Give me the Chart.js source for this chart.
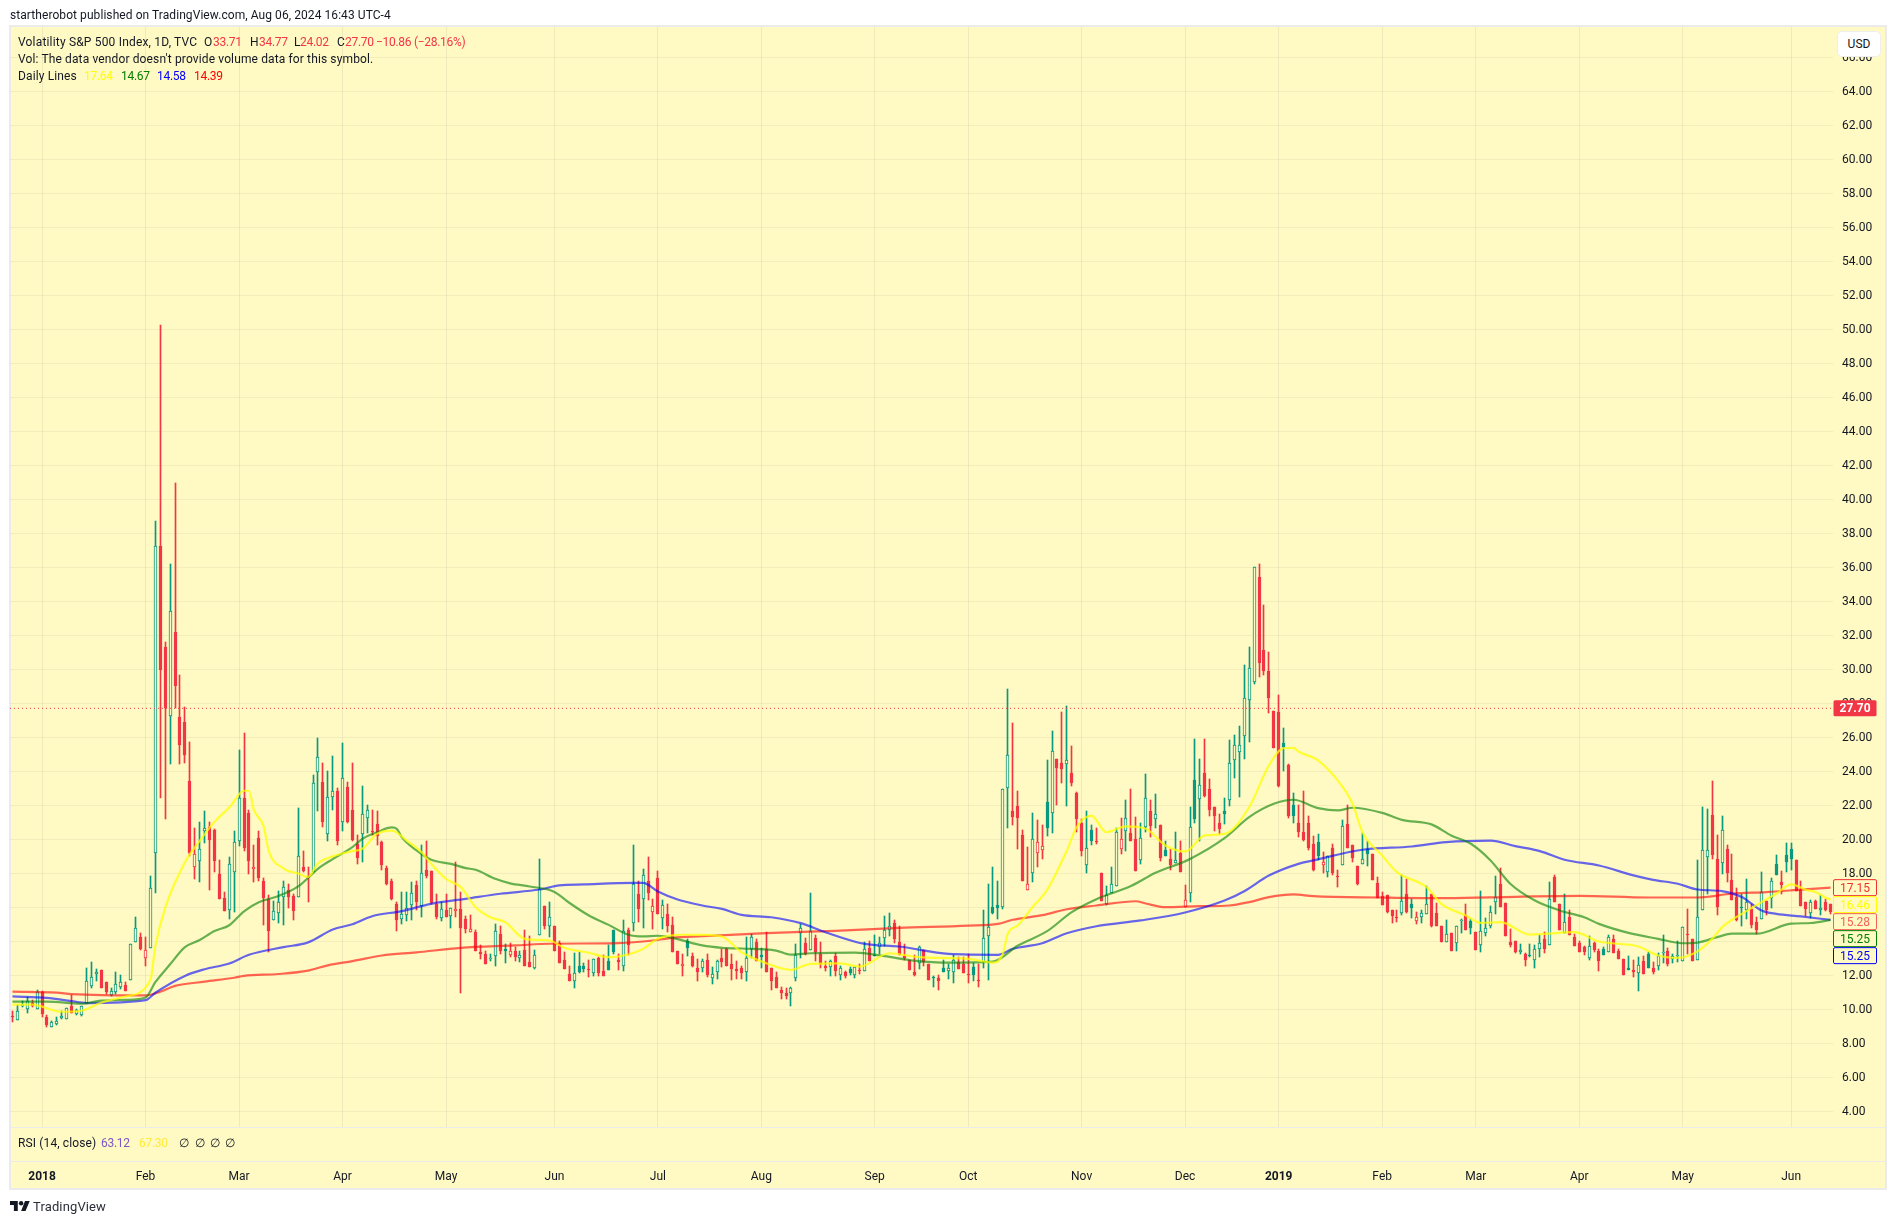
<!DOCTYPE html>
<html>
<head>
<meta charset="utf-8">
<title>VIX</title>
<script src="https://cdn.jsdelivr.net/npm/chart.js@4"></script>
<style>
    html, body { margin: 0; padding: 0; background: #fff; overflow: hidden; }
    body { width: 1895px; height: 1224px; position: relative; font-family: Roboto, sans-serif; font-size: 12px; color: #131722; }
    canvas { position: absolute; left: 0; top: 0; }
    .row { position: absolute; white-space: pre; line-height: 16px; letter-spacing: .13px; }
    .row span { position: absolute; top: 0; letter-spacing: -.3px; }
    #usd { position: absolute; left: 1837px; top: 31px; width: 42px; height: 24px; line-height: 24px; text-align: center; background: #fff; border: 1px solid #eeeeee; border-radius: 5px; }
</style>
</head>
<body>
<canvas id="vixChart" width="1895" height="1224"></canvas>
<div class="row" style="left:10px;top:7px;letter-spacing:.07px">startherobot published on TradingView.com, Aug 06, 2024 16:43 UTC-4</div>
<div class="row" style="left:18px;top:34px;letter-spacing:.18px">Volatility S&amp;P 500 Index, 1D, TVC<span style="left:186px">O</span><span style="left:195px;color:#F23645">33.71</span><span style="left:232px">H</span><span style="left:241px;color:#F23645">34.77</span><span style="left:276px">L</span><span style="left:282px;color:#F23645">24.02</span><span style="left:319px">C</span><span style="left:327px;color:#F23645">27.70</span><span style="left:358px;color:#F23645">−10.86 (−28.16%)</span></div>
<div class="row" style="left:18px;top:51px">Vol: The data vendor doesn't provide volume data for this symbol.</div>
<div class="row" style="left:18px;top:68px">Daily Lines<span style="left:66px;color:#FFFF00">17.64</span><span style="left:103px;color:#008000">14.67</span><span style="left:139px;color:#0000FF">14.58</span><span style="left:176px;color:#FF0000">14.39</span></div>
<div class="row" style="left:18px;top:1135px">RSI (14, close)<span style="left:83px;color:#7E57C2">63.12</span><span style="left:121px;color:#FFEB3B">67.30</span><span style="left:161px">∅</span><span style="left:177px">∅</span><span style="left:192px">∅</span><span style="left:207px">∅</span></div>
<div id="usd">USD</div>
<svg style="position:absolute;left:10px;top:1201px" width="20" height="10" viewBox="0 0 36 18"><path fill="#131722" d="M14 18H7V7H0V0h14v18zM28 18h-8l7-18h8.5L28 18z"/><circle cx="20" cy="4" r="4" fill="#131722"/></svg>
<div class="row" style="left:33px;top:1199px;font-size:13px;color:#2a2e39">TradingView</div>

<script>
// 봉 데이터 (시가/고가/저가/종가, 차트에서 읽은 값)
const opens = [
    9.6, 9.37, 10.2, 10.02, 10.36, 10.02, 11.03, 9.57, 8.98, 9.12,
    9.5, 9.43, 10.16, 9.71, 9.68, 10.38, 11.34, 12.05, 12.3, 11.59,
    10.81, 11.0, 11.28, 11.45, 11.73, 13.93, 14.27, 13.0, 13.59, 19.19,
    37.26, 31.32, 27.24, 32.16, 27.21, 26.9, 23.44, 18.38, 18.71, 20.49,
    20.71, 20.57, 17.98, 16.52, 15.84, 18.07, 19.92, 22.43, 21.56, 18.24,
    20.06, 17.53, 16.46, 15.22, 15.65, 16.6, 17.0, 16.63, 16.6, 18.38,
    17.73, 18.09, 23.95, 23.36, 20.32, 22.48, 22.85, 21.02, 23.05, 21.69,
    19.73, 20.3, 21.26, 20.51, 20.92, 19.83, 18.28, 17.57, 16.16, 15.32,
    15.55, 16.12, 17.28, 16.06, 18.16, 18.1, 16.2, 15.36, 15.81, 15.47,
    15.76, 15.9, 15.3, 14.53, 14.57, 13.39, 13.22, 12.95, 13.12, 14.4,
    13.57, 13.16, 13.45, 13.0, 13.51, 12.75, 12.41, 14.38, 16.08, 14.89,
    14.92, 13.9, 12.92, 12.08, 11.65, 12.55, 12.55, 12.36, 12.12, 13.0,
    12.22, 12.81, 14.63, 12.91, 12.53, 14.63, 15.06, 16.75, 16.47, 17.57,
    15.71, 17.69, 15.36, 15.61, 14.98, 13.45, 12.53, 14.04, 13.1, 12.4,
    12.41, 12.92, 11.82, 12.18, 13.04, 13.53, 12.63, 12.39, 12.45, 12.18,
    13.55, 13.96, 13.16, 13.55, 12.43, 11.92, 11.14, 10.96, 10.94, 11.82,
    14.47, 13.9, 13.49, 14.2, 13.23, 12.55, 12.47, 13.1, 12.0, 12.16,
    12.39, 12.0, 12.33, 12.23, 13.59, 13.16, 13.63, 14.18, 14.68, 15.08,
    13.96, 13.14, 12.92, 12.16, 12.7, 13.49, 12.63, 11.87, 11.82, 12.45,
    12.23, 12.18, 12.8, 12.63, 12.07, 12.51, 11.7, 12.8, 14.29, 16.04,
    16.14, 16.0, 23.0, 21.63, 21.96, 20.27, 17.0, 18.0, 19.18, 19.35,
    22.16, 21.53, 24.73, 24.51, 24.41, 23.9, 22.69, 20.96, 18.47, 20.57,
    19.92, 18.04, 16.16, 16.82, 17.26, 19.41, 20.49, 20.39, 20.04, 18.77,
    20.73, 21.63, 21.2, 20.81, 19.37, 18.86, 18.59, 19.16, 16.0, 16.84,
    23.49, 22.37, 23.9, 22.98, 21.92, 20.96, 21.63, 22.31, 24.67, 25.12,
    26.06, 28.2, 29.24, 35.45, 31.14, 29.9, 27.55, 27.51, 25.67, 24.34,
    22.04, 20.98, 20.45, 20.98, 19.69, 19.86, 18.47, 18.06, 19.49, 17.8,
    18.47, 20.87, 19.67, 18.43, 18.53, 19.43, 19.14, 17.4, 16.63, 16.73,
    15.81, 15.45, 15.65, 16.79, 16.16, 15.18, 15.41, 15.59, 16.79, 15.67,
    14.92, 13.98, 14.47, 13.87, 15.2, 15.57, 15.16, 14.57, 13.77, 14.47,
    14.88, 16.3, 17.38, 16.26, 13.96, 14.02, 13.36, 13.22, 13.14, 12.88,
    13.53, 14.1, 13.75, 17.75, 16.2, 14.47, 15.41, 14.22, 13.92, 13.63,
    13.04, 13.87, 13.45, 13.55, 13.39, 14.1, 13.41, 12.98, 12.43, 12.28,
    12.12, 12.81, 13.22, 12.41, 12.53, 13.3, 13.45, 12.98, 13.12, 12.81,
    14.45, 14.1, 12.87, 15.85, 18.95, 21.4, 18.81, 18.59, 19.4, 17.58,
    16.6, 15.98, 15.85, 15.89, 15.1, 15.32, 16.34, 16.56, 18.56, 17.46,
    19.05, 19.4, 18.75, 16.99, 16.28, 15.67, 16.34, 15.81, 16.3, 16.16
];
const highs = [
    9.88, 10.22, 10.5, 10.69, 10.52, 11.1, 11.05, 9.65, 9.3, 9.54,
    9.9, 10.07, 10.83, 9.99, 10.2, 12.44, 12.77, 12.38, 12.3, 11.6,
    11.26, 12.21, 11.99, 11.62, 13.85, 15.42, 14.47, 14.27, 17.84, 38.72,
    50.23, 31.6, 36.16, 40.97, 29.66, 27.77, 25.69, 20.68, 20.99, 21.64,
    21.02, 20.6, 18.77, 16.88, 18.97, 20.46, 25.27, 26.23, 21.7, 19.64,
    20.51, 17.7, 16.71, 16.35, 16.97, 17.53, 17.36, 16.8, 21.86, 19.33,
    18.38, 23.78, 25.97, 24.51, 24.0, 24.9, 23.02, 25.66, 23.36, 24.51,
    20.22, 23.1, 22.04, 21.69, 21.63, 19.92, 18.43, 17.67, 16.3, 16.92,
    16.9, 17.49, 17.55, 19.67, 19.87, 18.1, 16.79, 16.3, 16.79, 15.96,
    18.67, 16.92, 15.51, 15.57, 14.63, 13.75, 13.45, 13.26, 15.02, 14.92,
    13.85, 13.88, 13.65, 13.45, 14.63, 14.28, 13.51, 18.81, 16.08, 16.28,
    14.92, 14.0, 13.36, 12.57, 13.28, 13.34, 12.71, 12.87, 12.96, 13.06,
    13.16, 13.75, 14.63, 13.22, 15.22, 14.8, 19.63, 17.57, 18.22, 18.98,
    16.49, 18.1, 16.43, 16.2, 15.45, 13.45, 13.22, 14.14, 13.32, 12.96,
    12.96, 13.22, 12.51, 12.9, 13.55, 13.59, 13.22, 12.86, 12.55, 14.27,
    14.43, 14.14, 13.59, 14.57, 12.43, 12.16, 11.29, 11.25, 11.33, 13.84,
    15.02, 14.2, 16.86, 14.37, 13.96, 12.86, 12.9, 13.31, 12.55, 12.24,
    12.47, 12.49, 12.67, 13.96, 14.04, 14.39, 14.23, 15.47, 15.63, 15.22,
    14.92, 13.84, 12.92, 13.16, 13.74, 13.49, 12.63, 11.98, 12.04, 12.9,
    12.67, 13.16, 13.06, 13.06, 13.25, 12.69, 12.63, 15.84, 17.39, 18.39,
    17.53, 22.96, 28.81, 26.81, 22.86, 20.57, 19.57, 21.57, 21.1, 20.86,
    24.63, 26.37, 24.73, 27.51, 27.86, 25.51, 22.8, 21.2, 21.63, 20.86,
    20.65, 18.04, 17.24, 18.39, 20.67, 21.26, 22.32, 22.98, 21.33, 20.96,
    23.81, 22.33, 22.63, 20.81, 19.92, 19.43, 20.45, 19.92, 17.28, 21.92,
    25.9, 24.69, 25.9, 23.57, 21.92, 21.49, 22.45, 25.84, 26.1, 26.63,
    30.27, 31.33, 36.02, 36.16, 33.75, 31.04, 27.55, 28.51, 26.57, 24.43,
    22.69, 22.02, 22.81, 21.34, 20.16, 20.28, 19.24, 19.0, 19.73, 18.16,
    21.14, 22.04, 19.67, 18.43, 20.37, 19.92, 19.14, 17.75, 16.88, 16.73,
    15.81, 15.81, 17.92, 17.63, 16.51, 15.69, 15.85, 17.22, 16.79, 16.24,
    14.92, 15.22, 14.47, 14.92, 15.3, 16.16, 15.3, 14.57, 16.98, 15.38,
    16.08, 17.81, 18.32, 16.26, 14.69, 14.02, 13.84, 13.3, 13.81, 13.75,
    14.34, 14.53, 17.51, 17.87, 16.2, 16.75, 15.81, 14.43, 14.04, 13.73,
    14.28, 13.96, 13.55, 13.65, 14.39, 14.34, 13.55, 12.98, 13.14, 12.87,
    13.06, 13.14, 13.36, 12.77, 13.3, 14.34, 13.61, 13.26, 14.04, 14.81,
    15.9, 14.1, 18.8, 21.89, 21.79, 23.4, 20.22, 21.34, 19.63, 19.14,
    17.14, 16.79, 17.63, 16.16, 15.42, 18.07, 16.34, 17.73, 19.05, 18.12,
    19.75, 19.75, 18.75, 17.52, 16.28, 16.44, 16.44, 16.69, 16.46, 16.16
];
const lows = [
    9.26, 9.37, 10.15, 9.76, 10.1, 10.0, 9.57, 8.98, 8.95, 9.07,
    9.4, 9.43, 9.79, 9.65, 9.6, 10.38, 11.26, 11.65, 11.26, 10.9,
    10.75, 10.9, 11.17, 11.06, 11.73, 13.93, 13.48, 12.55, 13.59, 16.83,
    22.43, 21.16, 24.43, 27.69, 24.43, 24.48, 18.99, 17.64, 17.48, 19.78,
    17.0, 18.09, 16.46, 15.76, 15.28, 15.73, 19.58, 19.33, 17.95, 17.48,
    17.53, 14.94, 13.37, 15.22, 15.08, 14.97, 15.96, 15.22, 16.6, 18.09,
    16.29, 18.09, 21.67, 20.71, 19.89, 21.72, 19.64, 20.51, 20.94, 19.87,
    18.57, 18.63, 20.36, 20.22, 19.63, 18.16, 17.28, 16.4, 14.59, 15.0,
    15.18, 15.22, 15.81, 15.41, 17.73, 16.2, 15.3, 15.16, 15.45, 14.75,
    15.45, 10.94, 14.51, 14.53, 13.41, 12.94, 12.63, 12.83, 12.53, 13.22,
    12.71, 13.06, 12.83, 12.77, 12.53, 12.51, 12.36, 14.38, 14.71, 14.24,
    13.41, 12.71, 12.34, 11.63, 11.24, 12.12, 12.18, 11.88, 11.98, 11.98,
    11.94, 12.3, 13.22, 12.28, 12.24, 13.16, 14.59, 15.12, 14.75, 16.4,
    14.69, 15.59, 14.71, 14.53, 13.36, 12.63, 11.98, 13.12, 12.47, 11.65,
    12.16, 11.88, 11.47, 11.78, 12.51, 12.57, 11.69, 11.8, 11.8, 11.63,
    13.0, 12.82, 12.45, 12.18, 11.1, 11.23, 10.59, 10.59, 10.2, 11.63,
    13.0, 13.16, 13.49, 12.86, 12.41, 12.27, 11.98, 11.98, 11.69, 11.86,
    12.02, 11.86, 12.08, 12.23, 12.82, 13.1, 13.25, 13.69, 14.33, 13.9,
    13.16, 12.9, 12.33, 11.98, 12.35, 12.57, 11.69, 11.33, 11.1, 12.16,
    11.8, 11.57, 12.39, 12.12, 11.55, 11.63, 11.33, 12.43, 11.74, 15.6,
    15.29, 15.88, 20.63, 20.86, 19.45, 17.57, 17.0, 17.51, 18.39, 18.81,
    20.16, 20.39, 22.04, 23.33, 21.98, 23.1, 20.41, 19.04, 18.04, 19.65,
    19.69, 16.35, 16.12, 16.82, 17.26, 19.12, 19.28, 19.92, 18.12, 18.53,
    20.41, 20.12, 20.63, 18.69, 19.0, 18.2, 18.59, 18.06, 16.0, 16.3,
    20.94, 19.92, 22.51, 21.39, 20.51, 20.31, 20.9, 21.98, 23.61, 22.51,
    24.69, 25.71, 29.14, 29.57, 29.63, 27.41, 25.35, 23.06, 24.04, 21.24,
    20.94, 20.12, 19.9, 19.34, 18.1, 18.79, 18.0, 17.77, 17.87, 17.18,
    18.47, 19.47, 18.65, 17.3, 18.53, 18.45, 17.61, 16.55, 16.12, 15.65,
    15.06, 15.12, 15.55, 15.65, 15.36, 15.0, 15.06, 15.59, 14.83, 14.88,
    13.98, 13.98, 13.45, 13.45, 14.51, 14.63, 14.4, 13.49, 13.39, 14.28,
    14.75, 15.59, 16.0, 14.3, 13.65, 13.3, 13.22, 12.53, 13.06, 12.41,
    13.06, 13.3, 13.75, 16.28, 14.63, 14.47, 14.39, 13.69, 13.36, 13.16,
    12.87, 13.36, 12.22, 13.16, 13.39, 13.3, 12.94, 12.0, 12.28, 11.88,
    11.06, 12.06, 12.41, 12.08, 12.28, 12.73, 12.53, 12.73, 12.77, 12.81,
    13.26, 12.81, 12.87, 15.81, 16.8, 18.85, 15.56, 17.93, 17.48, 16.44,
    15.18, 14.89, 15.28, 14.79, 14.44, 15.32, 15.52, 15.97, 17.89, 16.79,
    18.07, 18.2, 16.95, 16.07, 15.46, 15.38, 15.87, 15.56, 15.77, 15.6
];
const closes = [
    9.55, 9.91, 10.27, 10.47, 10.16, 11.03, 9.74, 9.09, 9.26, 9.31,
    9.6, 10.07, 9.79, 9.93, 10.16, 11.65, 11.9, 12.21, 11.26, 11.03,
    11.06, 11.48, 11.59, 11.06, 13.85, 14.77, 13.54, 13.48, 17.14, 37.26,
    29.94, 27.69, 33.43, 29.0, 25.55, 24.96, 19.19, 19.13, 19.42, 20.63,
    19.98, 18.71, 16.46, 15.76, 18.54, 19.84, 22.43, 19.5, 18.71, 18.38,
    17.7, 16.52, 14.6, 15.79, 16.32, 17.19, 16.6, 15.79, 19.02, 18.15,
    17.84, 23.3, 24.85, 21.02, 22.48, 22.85, 19.92, 23.61, 21.02, 19.96,
    18.87, 21.49, 21.73, 20.43, 20.18, 18.47, 17.34, 16.49, 15.22, 15.61,
    15.96, 16.85, 16.3, 18.02, 17.81, 16.24, 15.4, 15.9, 15.45, 15.96,
    15.9, 14.75, 14.69, 14.73, 13.41, 13.22, 12.63, 12.99, 14.61, 13.41,
    13.41, 13.43, 13.06, 13.2, 12.57, 12.51, 13.2, 17.08, 14.92, 15.43,
    13.41, 12.71, 12.34, 11.63, 12.14, 12.16, 12.34, 12.32, 12.96, 12.12,
    11.94, 12.3, 13.36, 12.77, 14.61, 13.75, 17.34, 15.87, 17.91, 16.83,
    16.08, 15.59, 16.14, 14.92, 13.36, 12.63, 12.67, 13.59, 12.57, 12.16,
    12.84, 12.04, 12.08, 12.84, 12.8, 12.57, 12.39, 12.27, 12.12, 13.02,
    14.27, 12.82, 13.06, 12.18, 11.65, 11.23, 10.94, 10.8, 11.25, 13.16,
    14.78, 13.25, 14.6, 13.39, 12.63, 12.45, 12.84, 12.23, 12.43, 11.98,
    12.1, 12.49, 12.23, 13.55, 12.82, 13.12, 13.9, 14.68, 14.9, 14.1,
    13.16, 13.02, 12.33, 12.04, 13.67, 12.76, 11.69, 11.85, 11.65, 12.16,
    12.43, 12.9, 12.39, 12.12, 12.03, 12.04, 11.66, 14.2, 14.86, 15.65,
    15.94, 22.96, 24.96, 21.28, 21.22, 17.57, 17.37, 20.02, 19.84, 19.61,
    20.63, 25.2, 24.16, 24.1, 24.67, 23.28, 21.16, 19.28, 19.49, 19.92,
    19.82, 16.35, 16.71, 17.35, 20.43, 20.02, 21.26, 19.92, 18.12, 20.08,
    22.43, 20.77, 21.49, 18.88, 19.0, 18.47, 18.78, 18.06, 16.43, 20.73,
    21.18, 23.2, 22.57, 21.71, 21.39, 20.59, 21.5, 24.49, 25.55, 25.55,
    28.31, 30.08, 36.02, 30.35, 29.88, 28.3, 25.35, 23.14, 25.41, 21.34,
    21.34, 20.41, 19.94, 19.47, 18.16, 19.04, 18.63, 19.0, 18.0, 17.76,
    20.79, 19.47, 18.88, 17.38, 18.85, 19.12, 17.61, 16.55, 16.12, 15.69,
    15.51, 15.36, 16.38, 15.69, 15.94, 15.43, 15.67, 16.2, 14.87, 14.88,
    13.98, 14.43, 13.45, 14.87, 15.2, 14.63, 14.77, 13.49, 14.61, 14.75,
    15.73, 16.61, 16.0, 14.3, 13.77, 13.38, 13.49, 12.88, 13.13, 13.55,
    13.9, 13.57, 16.51, 16.28, 14.63, 15.14, 14.39, 13.69, 13.36, 13.34,
    13.73, 13.49, 12.81, 13.16, 14.26, 13.3, 12.94, 12.0, 12.28, 12.16,
    12.61, 12.06, 12.41, 12.2, 13.14, 13.32, 12.67, 13.14, 13.14, 14.81,
    14.34, 12.81, 15.43, 19.34, 19.38, 19.05, 16.01, 20.56, 18.0, 16.44,
    15.22, 15.94, 16.3, 14.93, 14.67, 16.89, 15.81, 17.52, 17.89, 17.3,
    18.65, 18.83, 16.95, 16.07, 15.87, 16.32, 15.87, 15.97, 15.85, 15.71
];
// 봉 색상 (g: 상승, r: 하락)
const candleDirs = (
    'rgggrgrrgg' + 'ggrgggggrr' + 'gggrggrrgg' + 'rrgrrrrrgg' + 'rrrrgggrrr' +
    'rrrgggrrgr' + 'rggrggrgrr' + 'rggrrrrrrg' + 'ggrgrrrgrg' + 'rrrrrrrggr' +
    'grrgrrggrg' + 'rrrrgggrgr' + 'rggrgrgrgr' + 'rrgrrrrgrr' + 'grggrrrrrg' +
    'grgrrrrrgg' + 'grgrrrgrgr' + 'ggrgrggggr' + 'rrrrgrrgrg' + 'ggrrrgrggg' +
    'gggrrrrgrr' + 'ggrrgrrrgg' + 'rrgggrgrrg' + 'grgrgrgrrg' + 'ggrrrrgggg' +
    'gggrrrrrgr' + 'grrrrgrgrr' + 'grrrggrrrr' + 'rrgrgrggrr' + 'rgrggrgrgg' +
    'ggrrrrgrgg' + 'grgrrgrrrr' + 'grrggrrrgr' + 'grgrggrggg' + 'rrgggrrgrr' +
    'rggrrgrggr' + 'ggrrrgrgrr'
).split('');

// 이동평균선 (봉 위치, 값)
const yellowBars = [0, 4, 10, 14, 18, 23, 28, 29, 31, 35, 38, 41, 44, 47, 48, 49, 51, 52, 55, 58, 60, 62, 65, 69, 71, 74, 77, 80, 83, 85, 88, 91, 94, 97, 100, 104, 109, 112, 117, 121, 125, 128, 131, 136, 140, 144, 148, 153, 158, 162, 168, 172, 178, 184, 194, 199, 201, 202, 204, 207, 210, 214, 216, 219, 222, 226, 230, 234, 238, 242, 246, 251, 255, 258, 260, 261, 265, 270, 272, 274, 278, 281, 287, 290, 295, 298, 302, 308, 311, 317, 322, 330, 334, 338, 342, 345, 347, 349, 351, 355, 358, 361, 364, 366, 368, 369];
const yellowLine = [10.27, 10.27, 9.85, 9.91, 10.38, 10.75, 11.73, 13.7, 15.96, 18.63, 19.9, 21.02, 21.86, 22.85, 22.85, 21.72, 20.74, 19.33, 18.29, 17.98, 17.78, 18.57, 18.99, 19.3, 19.43, 20.32, 20.51, 19.92, 19.24, 18.55, 17.67, 17.18, 16.0, 15.41, 15.12, 14.14, 14.04, 13.61, 13.32, 13.06, 13.22, 13.55, 14.14, 14.38, 14.37, 14.27, 13.35, 12.7, 12.31, 12.67, 12.7, 12.51, 13.29, 13.06, 12.96, 12.74, 13.25, 14.43, 14.92, 16.0, 17.02, 19.33, 20.71, 21.39, 20.41, 20.75, 20.61, 19.63, 19.28, 20.22, 20.31, 21.88, 24.33, 25.35, 25.37, 25.16, 24.63, 23.06, 22.08, 20.41, 19.04, 18.06, 17.18, 16.2, 15.51, 15.08, 15.12, 14.39, 14.43, 14.53, 13.98, 13.69, 13.16, 13.02, 13.4, 14.14, 14.83, 15.26, 15.61, 16.3, 16.79, 17.34, 17.03, 16.89, 16.56, 16.46];
const greenBars = [0, 7, 14, 18, 23, 27, 29, 32, 35, 38, 41, 44, 47, 50, 54, 58, 62, 65, 69, 71, 74, 77, 78, 79, 82, 85, 89, 92, 94, 98, 101, 105, 110, 113, 117, 121, 125, 128, 131, 135, 140, 144, 148, 155, 158, 162, 171, 177, 183, 190, 199, 204, 210, 215, 220, 227, 232, 239, 246, 251, 256, 260, 265, 269, 272, 278, 282, 288, 292, 296, 300, 304, 309, 314, 319, 322, 328, 334, 339, 342, 346, 349, 354, 361, 365, 369];
const greenLine = [10.44, 10.44, 10.33, 10.5, 10.55, 10.69, 11.59, 12.64, 13.65, 14.07, 14.6, 14.94, 15.76, 16.29, 16.66, 17.22, 18.26, 18.83, 19.53, 20.02, 20.41, 20.69, 20.61, 20.12, 19.34, 18.79, 18.55, 18.3, 18.2, 17.67, 17.4, 17.22, 16.9, 16.26, 15.51, 14.96, 14.38, 14.28, 14.32, 14.12, 13.75, 13.61, 13.57, 13.45, 13.21, 13.29, 13.33, 13.12, 12.86, 12.74, 12.8, 13.73, 14.59, 15.71, 16.47, 17.24, 18.02, 18.84, 20.06, 21.3, 22.08, 22.32, 21.83, 21.69, 21.85, 21.55, 21.14, 20.87, 20.22, 19.73, 18.75, 17.38, 16.39, 15.81, 15.41, 15.02, 14.49, 14.14, 13.88, 13.92, 14.24, 14.44, 14.44, 15.03, 15.07, 15.25];
const blueBars = [0, 7, 12, 15, 27, 29, 35, 39, 44, 48, 55, 60, 65, 69, 73, 79, 85, 92, 99, 107, 111, 116, 126, 128, 131, 135, 140, 144, 148, 154, 160, 165, 173, 180, 190, 200, 203, 209, 214, 220, 229, 238, 246, 250, 255, 261, 264, 274, 284, 291, 300, 305, 310, 315, 322, 329, 333, 338, 342, 347, 351, 355, 358, 363, 369];
const blueLine = [10.75, 10.67, 10.47, 10.36, 10.53, 10.97, 11.96, 12.35, 12.69, 13.2, 13.65, 13.93, 14.69, 15.0, 15.47, 15.77, 16.2, 16.49, 16.79, 17.04, 17.28, 17.34, 17.43, 17.43, 16.92, 16.45, 16.1, 15.9, 15.55, 15.41, 15.06, 14.53, 13.84, 13.69, 13.25, 13.2, 13.55, 13.88, 14.47, 14.88, 15.22, 15.69, 16.39, 16.94, 17.86, 18.55, 18.75, 19.38, 19.57, 19.83, 19.92, 19.59, 19.3, 18.79, 18.45, 17.87, 17.61, 17.38, 17.04, 16.95, 16.6, 15.81, 15.61, 15.46, 15.25];
const redBars = [0, 9, 12, 27, 30, 33, 39, 45, 47, 54, 60, 64, 69, 75, 82, 91, 102, 109, 123, 130, 134, 140, 153, 167, 180, 194, 200, 203, 209, 214, 220, 228, 230, 234, 241, 247, 251, 255, 260, 264, 278, 291, 305, 318, 332, 342, 349, 356, 363, 369];
const redLine = [11.03, 10.97, 10.89, 10.81, 11.03, 11.37, 11.62, 11.85, 11.96, 12.07, 12.27, 12.58, 12.83, 13.16, 13.34, 13.61, 13.75, 13.85, 13.89, 14.04, 14.2, 14.29, 14.47, 14.61, 14.78, 14.92, 15.02, 15.26, 15.53, 15.88, 16.1, 16.35, 16.22, 16.0, 16.06, 16.1, 16.3, 16.59, 16.75, 16.65, 16.57, 16.53, 16.61, 16.67, 16.57, 16.57, 16.79, 16.89, 17.03, 17.15];

// 축 눈금
const tickBars = [6, 27, 46, 67, 88, 110, 131, 152, 175, 194, 217, 238, 257, 278, 297, 318, 339, 361];
const tickLabels = ['2018', 'Feb', 'Mar', 'Apr', 'May', 'Jun', 'Jul', 'Aug', 'Sep', 'Oct', 'Nov', 'Dec', '2019', 'Feb', 'Mar', 'Apr', 'May', 'Jun'];

// 오른쪽 가격 태그
const lastPrice = 27.70;
const tagValues = [17.15, 16.46, 15.28, 15.25, 15.25];
const tagColors = ['#F23030', '#FFFF00', '#F4605A', '#008000', '#0000FF'];

const PANE_BG = '#FFF9C4';
const UP = '#089981';
const DOWN = '#F23645';

const wickColors = candleDirs.map(d => d === 'g' ? UP : DOWN);
const bodyFills = wickColors.map((c, i) => closes[i] >= opens[i] ? PANE_BG : c);

function maLine(bars, values, color) {
    return {
        type: 'line',
        data: bars.map((b, i) => ({ x: b, y: values[i] })),
        borderColor: color,
        borderWidth: 2.2,
        pointRadius: 0,
        cubicInterpolationMode: 'monotone',
        order: 1
    };
}

// 봉을 픽셀에 맞춰 선명하게
const snapBars = {
    id: 'snapBars',
    afterDatasetsUpdate(chart) {
        chart.data.datasets.forEach((d, i) => {
            const meta = chart.getDatasetMeta(i);
            if (meta.type !== 'bar') return;
            meta.data.forEach(el => {
                el.x = Math.floor(el.x) + 0.5;
                el.y = Math.round(el.y);
                el.base = Math.round(el.base);
                if (el.y === el.base) el.base += 1;
            });
        });
    }
};

// 패널 배경과 구분선
const panes = {
    id: 'panes',
    beforeDraw(chart) {
        const { ctx, chartArea: a } = chart;
        ctx.save();
        ctx.fillStyle = PANE_BG;
        ctx.fillRect(a.left, a.top, 1885 - a.left, 1188 - a.top);
        ctx.strokeStyle = '#EBEBEB';
        ctx.lineWidth = 2;
        ctx.strokeRect(a.left, a.top - 1, 1885 - a.left + 1, 1188 - a.top + 2);
        ctx.beginPath();
        ctx.moveTo(a.left, 1127.5);
        ctx.lineTo(1885, 1127.5);
        ctx.moveTo(a.left, 1161.5);
        ctx.lineTo(1885, 1161.5);
        ctx.lineWidth = 1;
        ctx.stroke();
        ctx.restore();
    },
    afterDraw(chart) {
        const { ctx, scales: { y } } = chart;
        ctx.save();
        ctx.textAlign = 'center';
        ctx.textBaseline = 'middle';
        const drawTag = (py, text, color, filled) => {
            ctx.beginPath();
            ctx.roundRect(1833.5, py - 8, 43, 16, 1.5);
            ctx.fillStyle = filled ? color : PANE_BG;
            ctx.fill();
            if (!filled) {
                ctx.strokeStyle = color;
                ctx.lineWidth = 1;
                ctx.stroke();
            }
            ctx.fillStyle = filled ? '#fff' : color;
            ctx.font = (filled ? 'bold ' : '') + '12px Roboto';
            ctx.fillText(text, 1855, py + 1);
        };
        drawTag(y.getPixelForValue(lastPrice), lastPrice.toFixed(2), DOWN, true);
        let prev = -Infinity;
        tagValues.forEach((v, i) => {
            const py = Math.max(y.getPixelForValue(v), prev + 17);
            drawTag(py, v.toFixed(2), tagColors[i], false);
            prev = py;
        });
        ctx.restore();
    }
};

new Chart(document.getElementById('vixChart').getContext('2d'), {
    type: 'bar',
    data: {
        datasets: [
            {
                data: highs.map((h, i) => ({ x: i, y: [lows[i], h] })),
                backgroundColor: wickColors,
                barThickness: 1,
                grouped: false,
                order: 3
            },
            {
                data: opens.map((o, i) => ({ x: i, y: [o, closes[i]] })),
                backgroundColor: bodyFills,
                borderColor: wickColors,
                borderWidth: 1,
                borderSkipped: false,
                barThickness: 3,
                grouped: false,
                minBarLength: 1,
                order: 2
            },
            maLine(yellowBars, yellowLine, 'rgba(255,255,0,0.75)'),
            maLine(greenBars, greenLine, 'rgba(0,128,0,0.6)'),
            maLine(blueBars, blueLine, 'rgba(0,0,255,0.6)'),
            maLine(redBars, redLine, 'rgba(255,0,0,0.6)'),
            {
                type: 'line',
                data: [{ x: -0.5, y: lastPrice }, { x: 369.5, y: lastPrice }],
                borderColor: DOWN,
                borderWidth: 1,
                borderDash: [1, 3],
                pointRadius: 0,
                order: 0
            }
        ]
    },
    options: {
        responsive: false,
        animation: false,
        devicePixelRatio: 1,
        layout: { padding: { left: 10, top: 27, right: 10, bottom: 36 } },
        plugins: { legend: { display: false }, tooltip: { enabled: false } },
        scales: {
            x: {
                type: 'linear',
                min: -0.5,
                max: 369.5,
                offset: false,
                afterBuildTicks: scale => { scale.ticks = tickBars.map(v => ({ value: v })); },
                afterFit: scale => { scale.height = 61; scale.paddingLeft = 0; scale.paddingRight = 0; },
                border: { display: false },
                grid: { offset: false, drawTicks: false, color: 'rgba(42,46,57,0.07)' },
                ticks: {
                    autoSkip: false,
                    maxRotation: 0,
                    padding: 43,
                    color: '#131722',
                    font: ctx => {
                        const label = ctx.tick ? tickLabels[tickBars.indexOf(ctx.tick.value)] : '';
                        return { family: 'Roboto', size: 12, weight: /^\d/.test(label) ? 'bold' : 'normal' };
                    },
                    callback: value => tickLabels[tickBars.indexOf(value)]
                }
            },
            y: {
                position: 'right',
                min: 3.0706,
                max: 67.776,
                afterFit: scale => { scale.width = 52; scale.paddingTop = 0; scale.paddingBottom = 0; },
                border: { display: false },
                grid: { drawTicks: false, color: 'rgba(42,46,57,0.06)' },
                ticks: {
                    stepSize: 2,
                    includeBounds: false,
                    padding: 9,
                    labelOffset: 1,
                    crossAlign: 'near',
                    color: '#131722',
                    font: { family: 'Roboto', size: 12 },
                    callback: value => value.toFixed(2)
                }
            }
        }
    },
    plugins: [snapBars, panes]
});
</script>
</body>
</html>
